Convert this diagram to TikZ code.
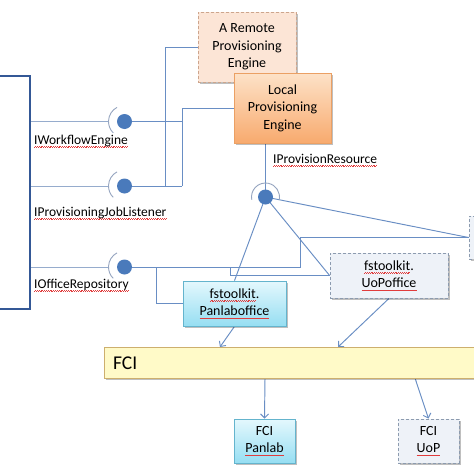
\documentclass[tikz,border=0pt]{standalone}
\usepackage{fontspec}
\setmainfont{Carlito}
\usetikzlibrary{arrows.meta,shadows,backgrounds}
\definecolor{lineblue}{RGB}{105,142,196}
\definecolor{lightline}{RGB}{150,172,205}
\definecolor{ballc}{RGB}{74,122,187}
\definecolor{arcc}{RGB}{150,165,192}
\definecolor{leftc}{RGB}{52,88,150}
\definecolor{remfill}{RGB}{252,229,214}
\definecolor{remdraw}{RGB}{205,165,140}
\definecolor{loctop}{RGB}{253,226,200}
\definecolor{locbot}{RGB}{248,170,110}
\definecolor{locdraw}{RGB}{235,160,100}
\definecolor{cyantop}{RGB}{228,248,253}
\definecolor{cyanbot}{RGB}{150,222,242}
\definecolor{cyandraw}{RGB}{100,180,205}
\definecolor{grayfill}{RGB}{238,242,248}
\definecolor{graydraw}{RGB}{140,155,175}
\definecolor{fcifill}{RGB}{255,250,200}
\definecolor{fcidraw}{RGB}{205,175,110}
\definecolor{sqred}{RGB}{225,60,60}
\newsavebox\rwbox
\newcommand\rw[1]{\sbox\rwbox{#1}\leavevmode\rlap{\color{sqred}\raisebox{-2.8pt}{\hbox to \wd\rwbox{\xleaders\hbox{\rule[0pt]{0.9pt}{0.5pt}\rule[0.5pt]{0.9pt}{0.5pt}}\hfill}}}\usebox\rwbox}
\begin{document}
\begin{tikzpicture}[x=1pt,y=-1pt,
  txt/.style={font=\fontsize{14}{17.5}\selectfont, align=center, inner sep=0pt},
  lbl/.style={font=\fontsize{13.5}{16}\selectfont, anchor=west, inner sep=0pt},
  wire/.style={draw=lineblue, line width=0.95pt},
  lwire/.style={draw=lightline, line width=0.95pt},
  arr/.style={draw=lineblue, line width=0.95pt, -{Straight Barb[length=4pt,width=8pt]}},
  arcst/.style={draw=arcc, line width=0.9pt},
  ball/.style={circle, fill=ballc, minimum size=15, inner sep=0pt},
  shad/.style={drop shadow={shadow xshift=1.5pt, shadow yshift=-1.5pt, opacity=0.25, fill=black}},
  remst/.style={txt, shad, fill=remfill, draw=remdraw, dash pattern=on 3pt off 2pt, line width=0.8pt},
  locst/.style={txt, shad, top color=loctop, bottom color=locbot, draw=locdraw, line width=0.8pt},
  cyanst/.style={txt, shad, top color=cyantop, bottom color=cyanbot, draw=cyandraw, line width=0.8pt},
  grayst/.style={txt, shad, fill=grayfill, draw=graydraw, dash pattern=on 3pt off 2pt, line width=0.8pt},
  fcist/.style={shad, fill=fcifill, draw=fcidraw, line width=0.8pt, inner sep=0pt},
  leftst/.style={draw=leftc, fill=white, line width=2.2pt, inner sep=0pt}]
\useasboundingbox (0,0) rectangle (474,474);
\clip (0,0) rectangle (474,474);

% nodes
\node[leftst, minimum width=60, minimum height=233] (lb) at (0,192.5) {};
\node[remst, minimum width=98, minimum height=70] (rem) at (247,47) {A Remote\\Provisioning\\Engine};
\node[locst, minimum width=97, minimum height=70] (loc) at (282.5,108) {Local\\Provisioning\\Engine};
\node[grayst, minimum width=92, minimum height=43] (rb) at (515,237.5) {};
\node[grayst, minimum width=118, minimum height=45] (uop) at (389,275.5) {\rw{fstoolkit}.\\\rw{UoPoffice}};
\node[cyanst, minimum width=103, minimum height=45] (pan) at (234.5,303.5) {\rw{fstoolkit}.\\\rw{Panlaboffice}};
\node[fcist, minimum width=472, minimum height=31] (fci) at (340,362.5) {};
\node[anchor=west, inner sep=0pt, font=\fontsize{19.5}{22}\selectfont] (fcit) at (113,363) {FCI};
\node[cyanst, minimum width=61, minimum height=44] (fp) at (264.5,441) {FCI\\\rw{Panlab}};
\node[grayst, minimum width=61, minimum height=44] (fu) at (428.5,441) {FCI\\\rw{UoP}};

\node[ball] (b1) at (124.5,121.5) {};
\node[ball] (b2) at (124.5,186) {};
\node[ball] (b3) at (124.5,267) {};
\node[ball] (b4) at (265.5,197) {};

% sockets
\draw[arcst] ([shift={(118:16pt)}]b1.center) arc[start angle=118, end angle=225, radius=16pt];
\draw[arcst] ([shift={(118:16pt)}]b2.center) arc[start angle=118, end angle=225, radius=16pt];
\draw[arcst] ([shift={(118:16pt)}]b3.center) arc[start angle=118, end angle=225, radius=16pt];
\draw[arcst] ([shift={(-12:14pt)}]b4.center) arc[start angle=-12, end angle=192, radius=14pt];

% labels
\node[lbl] (l1) at (34,141) {\rw{IWorkflowEngine}};
\node[lbl] (l2) at (34,213) {\rw{IProvisioningJobListener}};
\node[lbl] (l3) at (34,285) {\rw{IOfficeRepository}};
\node[lbl] (l4) at (273,160) {\rw{IProvisionResource}};

\coordinate (j1) at (165,186);
\coordinate (j2) at (182,186);
\coordinate (j3) at (300,267);
\coordinate (j4) at (230,267);
\coordinate (j5) at (156,267);
\coordinate (f1) at (220,347);
\coordinate (f2) at (338,347);
\coordinate (f3) at (265,378);
\coordinate (f4) at (415,378);

\begin{scope}[on background layer]
\fill[white] (0,0) rectangle (474,474);
\draw[lwire] (lb.east |- b1) -- ([xshift=-16pt]b1.center);
\draw[lwire] (lb.east |- b2) -- ([xshift=-16pt]b2.center);
\draw[lwire] (lb.east |- b3) -- ([xshift=-16pt]b3.center);
\draw[wire] (rem.west) -| (j1);
\draw[wire] (loc.west) -| (j2);
\draw[wire] (b1.center) -- (b1 -| j2);
\draw[wire] (b2.center) -- (j2);
\draw[wire] (b4 |- loc.south) -- (b4.center);
\draw[wire] (b4.center) -- (rb.west);
\draw[wire] (b4.center) -- (pan.north);
\draw[wire] (b4.center) -- (uop.west);
\draw[wire] (b3.center) -- (j3) |- (rb.west);
\draw[wire] (j4) |- (uop.west);
\draw[wire] (j5) |- (pan.west);
\draw[arr] (pan.south) -- (f1);
\draw[arr] (uop.south) -- (f2);
\draw[arr] (f3) -- (fp.north);
\draw[arr] (f4) -- (fu.north);
\end{scope}
\end{tikzpicture}
\end{document}
